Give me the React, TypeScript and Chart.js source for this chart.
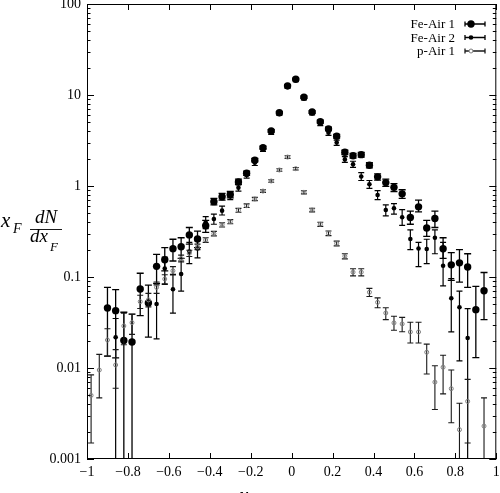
import React, { useEffect, useRef } from "react";
import { Chart, registerables } from "chart.js";

Chart.register(...registerables);

// ---------- data ----------
const xBins = [
  -0.98, -0.94, -0.9, -0.86, -0.82, -0.78, -0.74, -0.7, -0.66, -0.62,
  -0.58, -0.54, -0.5, -0.46, -0.42, -0.38, -0.34, -0.3, -0.26, -0.22,
  -0.18, -0.14, -0.1, -0.06, -0.02, 0.02, 0.06, 0.1, 0.14, 0.18,
  0.22, 0.26, 0.3, 0.34, 0.38, 0.42, 0.46, 0.5, 0.54, 0.58,
  0.62, 0.66, 0.7, 0.74, 0.78, 0.82, 0.86, 0.9, 0.94, 0.98,
];

const seriesNames = ["Fe-Air 1", "Fe-Air 2", "p-Air 1"];

const feAir1 = [
  null, null, 0.0456, 0.0427, 0.0201, 0.0193, 0.0738, 0.0518, 0.131, 0.155,
  0.205, 0.215, 0.29, 0.262, 0.366, 0.673, 0.762, 0.8, 1.11, 1.38,
  1.92, 2.64, 4.02, 6.38, 12.6, 14.9, 9.44, 6.5, 5.09, 4.23,
  3.52, 2.35, 2.15, 2.21, 1.69, 1.26, 1.09, 0.966, 0.82, 0.45,
  0.59, 0.345, 0.44, 0.204, 0.136, 0.143, 0.129, 0.0438, 0.0706, null,
];
const feAir1Lo = [
  null, null, 0.0135, 0.0129, 0.0003, 0.0003, 0.0376, 0.0218, 0.085, 0.117,
  0.15, 0.16, 0.23, 0.21, 0.31, 0.62, 0.7, 0.74, 1.04, 1.31,
  1.84, 2.55, 3.9, 6.2, 12.3, 14.6, 9.2, 6.3, 4.9, 4.05,
  3.35, 2.22, 2.02, 2.08, 1.58, 1.16, 0.99, 0.87, 0.73, 0.38,
  0.52, 0.28, 0.35, 0.16, 0.092, 0.088, 0.077, 0.013, 0.034, null,
];
const feAir1Hi = [
  null, null, 0.077, 0.0726, 0.041, 0.039, 0.11, 0.0813, 0.177, 0.21,
  0.26, 0.27, 0.35, 0.32, 0.42, 0.73, 0.83, 0.87, 1.19, 1.46,
  2.01, 2.74, 4.15, 6.55, 12.9, 15.2, 9.7, 6.7, 5.3, 4.42,
  3.7, 2.48, 2.28, 2.34, 1.8, 1.36, 1.19, 1.06, 0.91, 0.53,
  0.7, 0.42, 0.53, 0.27, 0.185, 0.2, 0.18, 0.079, 0.112, null,
];

const feAir2 = [
  null, null, null, 0.0218, null, null, null, null, 0.0505, 0.124,
  0.0733, 0.108, 0.19, 0.206, 0.4, 0.434, 0.536, 0.78, 0.957, 1.32,
  1.8, 2.55, 3.9, 6.2, 12.2, 14.5, 9.2, 6.3, 4.85, 3.85,
  3.0, 1.96, 1.73, 1.27, 1.045, 0.796, 0.545, 0.569, 0.453, 0.262,
  0.206, 0.203, 0.27, 0.133, 0.0585, 0.0465, 0.0214, null, null, null,
];
const feAir2Lo = [
  null, null, null, 0.0003, null, null, null, null, 0.0209, 0.083,
  0.04, 0.07, 0.14, 0.162, 0.34, 0.38, 0.48, 0.71, 0.88, 1.22,
  1.68, 2.4, 3.7, 5.95, 11.8, 14.0, 8.85, 6.05, 4.6, 3.6,
  2.8, 1.82, 1.6, 1.15, 0.94, 0.71, 0.47, 0.49, 0.37, 0.2,
  0.13, 0.14, 0.18, 0.08, 0.025, 0.012, 0.0003, null, null, null,
];
const feAir2Hi = [
  null, null, null, 0.035, null, null, null, null, 0.082, 0.165,
  0.107, 0.15, 0.24, 0.25, 0.46, 0.49, 0.6, 0.85, 1.03, 1.42,
  1.92, 2.7, 4.1, 6.45, 12.6, 15.0, 9.55, 6.55, 5.1, 4.1,
  3.2, 2.1, 1.87, 1.4, 1.15, 0.89, 0.62, 0.64, 0.55, 0.33,
  0.24, 0.26, 0.33, 0.24, 0.096, 0.07, 0.045, null, null, null,
];

const pAir1 = [
  0.005, 0.0095, 0.0203, 0.0108, 0.029, 0.0315, 0.0536, 0.056, 0.077, 0.095,
  0.117, 0.16, 0.182, 0.215, 0.255, 0.3, 0.375, 0.406, 0.541, 0.608,
  0.72, 0.88, 1.135, 1.5, 2.08, 1.55, 0.853, 0.545, 0.38, 0.302,
  0.234, 0.169, 0.113, 0.113, 0.068, 0.0527, 0.0402, 0.0313, 0.0305, 0.0249,
  0.0249, 0.0149, 0.007, 0.0102, 0.00593, 0.0021, 0.0043, null, 0.0023, null,
];
const pAir1Lo = [
  0.0015, 0.0047, 0.0135, 0.006, 0.018, 0.0234, 0.045, 0.047, 0.066, 0.084,
  0.105, 0.146, 0.168, 0.2, 0.24, 0.283, 0.355, 0.385, 0.515, 0.58,
  0.69, 0.85, 1.1, 1.45, 2.01, 1.5, 0.82, 0.52, 0.36, 0.285,
  0.22, 0.158, 0.103, 0.103, 0.061, 0.046, 0.034, 0.026, 0.025, 0.0188,
  0.0188, 0.0086, 0.0035, 0.0052, 0.0025, 0.0003, 0.0015, null, 0.0003, null,
];
const pAir1Hi = [
  0.0084, 0.0141, 0.027, 0.0159, 0.04, 0.039, 0.063, 0.066, 0.088, 0.106,
  0.13, 0.174, 0.197, 0.23, 0.27, 0.317, 0.395, 0.427, 0.567, 0.636,
  0.75, 0.91, 1.17, 1.55, 2.15, 1.6, 0.886, 0.57, 0.4, 0.32,
  0.248, 0.18, 0.123, 0.123, 0.075, 0.059, 0.046, 0.037, 0.036, 0.0318,
  0.0318, 0.0183, 0.0106, 0.0138, 0.0095, 0.0041, 0.0075, null, 0.0047, null,
];

const xTickValues = [-1, -0.8, -0.6, -0.4, -0.2, 0, 0.2, 0.4, 0.6, 0.8, 1];
const xTickLabels = ["\u22121", "\u22120.8", "\u22120.6", "\u22120.4", "\u22120.2", "0", "0.2", "0.4", "0.6", "0.8", "1"];
const yTickValues = [0.001, 0.01, 0.1, 1, 10, 100];
const yTickLabels = ["0.001", "0.01", "0.1", "1", "10", "100"];
const yMinorFactors = [2, 3, 4, 5, 6, 7, 8, 9];

// ---------- helpers ----------
type Pt = { x: number; y: number; lo: number; hi: number };
function points(vals: (number | null)[], lo: (number | null)[], hi: (number | null)[]): Pt[] {
  const out: Pt[] = [];
  vals.forEach((v, i) => {
    if (v === null) return;
    out.push({ x: xBins[i], y: v, lo: lo[i] as number, hi: hi[i] as number });
  });
  return out;
}

const SERIF = '"Liberation Serif", "Times New Roman", serif';

const styles = [
  { radius: 3.7, fill: "#000", stroke: "#000", bw: 0, cap: 3.5, barColor: "#000", barWidth: 1.3 },
  { radius: 2.3, fill: "#000", stroke: "#000", bw: 0, cap: 3, barColor: "#000", barWidth: 1.2 },
  { radius: 2.0, fill: "rgba(255,255,255,0)", stroke: "#7d7d7d", bw: 1, cap: 3, barColor: "#1a1a1a", barWidth: 1.1 },
];

const errorBarPlugin = {
  id: "errorBars",
  beforeDatasetDraw(chart: any, args: any) {
    const { ctx, chartArea } = chart;
    const xs = chart.scales.x;
    const ys = chart.scales.y;
    const ds = chart.data.datasets[args.index];
    const st = styles[args.index];
    ctx.save();
    ctx.strokeStyle = st.barColor;
    ctx.lineWidth = st.barWidth;
    (ds.data as Pt[]).forEach((p) => {
      const px = xs.getPixelForValue(p.x);
      const loIn = p.lo >= ys.min;
      const hiIn = p.hi <= ys.max;
      const yl = loIn ? ys.getPixelForValue(p.lo) : chartArea.bottom;
      const yh = hiIn ? ys.getPixelForValue(p.hi) : chartArea.top;
      ctx.beginPath();
      ctx.moveTo(px, yl);
      ctx.lineTo(px, yh);
      if (loIn) {
        ctx.moveTo(px - st.cap, yl);
        ctx.lineTo(px + st.cap, yl);
      }
      if (hiIn) {
        ctx.moveTo(px - st.cap, yh);
        ctx.lineTo(px + st.cap, yh);
      }
      ctx.stroke();
    });
    ctx.restore();
  },
};

const framePlugin = {
  id: "frame",
  afterDraw(chart: any) {
    const { ctx, chartArea } = chart;
    const { left, right, top, bottom } = chartArea;
    const xs = chart.scales.x;
    const ys = chart.scales.y;
    ctx.save();
    ctx.strokeStyle = "#000";
    ctx.lineWidth = 1;
    ctx.strokeRect(left + 0.5, top + 0.5, right - left - 1, bottom - top - 1);

    // x ticks (inward, bottom and top)
    ctx.beginPath();
    xTickValues.forEach((v) => {
      const px = Math.round(xs.getPixelForValue(v)) + 0.5;
      ctx.moveTo(px, bottom);
      ctx.lineTo(px, bottom - 6);
      ctx.moveTo(px, top);
      ctx.lineTo(px, top + 6);
    });
    // y ticks major and minor
    yTickValues.forEach((v, i) => {
      const py = Math.round(ys.getPixelForValue(v)) + 0.5;
      ctx.moveTo(left, py);
      ctx.lineTo(left + 7, py);
      ctx.moveTo(right, py);
      ctx.lineTo(right - 7, py);
      if (i < yTickValues.length - 1) {
        yMinorFactors.forEach((f) => {
          const my = Math.round(ys.getPixelForValue(v * f)) + 0.5;
          ctx.moveTo(left, my);
          ctx.lineTo(left + 3.5, my);
          ctx.moveTo(right, my);
          ctx.lineTo(right - 3.5, my);
        });
      }
    });
    ctx.stroke();

    // tick labels
    ctx.fillStyle = "#000";
    ctx.font = `14px ${SERIF}`;
    ctx.textAlign = "center";
    ctx.textBaseline = "middle";
    xTickValues.forEach((v, i) => {
      ctx.fillText(xTickLabels[i], xs.getPixelForValue(v), bottom + 13);
    });
    ctx.textAlign = "right";
    yTickValues.forEach((v, i) => {
      ctx.fillText(yTickLabels[i], left - 6, ys.getPixelForValue(v));
    });

    // y-axis title: x_F dN/dx_F
    ctx.textAlign = "left";
    ctx.textBaseline = "alphabetic";
    ctx.font = `italic 21px ${SERIF}`;
    ctx.fillText("x", 1, 227);
    ctx.font = `italic 14px ${SERIF}`;
    ctx.fillText("F", 13, 233);
    ctx.font = `italic 19px ${SERIF}`;
    ctx.textAlign = "center";
    ctx.fillText("dN", 46, 223);
    ctx.beginPath();
    ctx.lineWidth = 0.9;
    ctx.moveTo(30, 229.5);
    ctx.lineTo(62, 229.5);
    ctx.stroke();
    ctx.textAlign = "left";
    ctx.fillText("dx", 30, 242);
    ctx.font = `italic 13px ${SERIF}`;
    ctx.fillText("F", 50, 251);

    // x-axis title (mostly outside the picture)
    ctx.font = `italic 21px ${SERIF}`;
    ctx.fillText("x", 239, 502);
    ctx.font = `italic 14px ${SERIF}`;
    ctx.fillText("F", 250, 507);

    // legend
    const rowsY = [24, 37.5, 51];
    ctx.font = `13px ${SERIF}`;
    ctx.textAlign = "right";
    ctx.textBaseline = "middle";
    seriesNames.forEach((name, i) => {
      const y = rowsY[i];
      const st = styles[i];
      ctx.fillStyle = "#000";
      ctx.fillText(name, 455, y + 1);
      ctx.strokeStyle = st.barColor;
      ctx.lineWidth = 1.3;
      ctx.beginPath();
      ctx.moveTo(465, y);
      ctx.lineTo(485, y);
      ctx.moveTo(465, y - 2.5);
      ctx.lineTo(465, y + 2.5);
      ctx.moveTo(485, y - 2.5);
      ctx.lineTo(485, y + 2.5);
      ctx.stroke();
      ctx.beginPath();
      ctx.arc(471, y, st.radius, 0, Math.PI * 2);
      if (i < 2) {
        ctx.fillStyle = st.fill;
        ctx.fill();
      } else {
        ctx.fillStyle = "#fff";
        ctx.fill();
        ctx.strokeStyle = st.stroke;
        ctx.lineWidth = 1;
        ctx.stroke();
      }
    });
    ctx.restore();
  },
};

export default function App() {
  const ref = useRef<HTMLCanvasElement | null>(null);

  useEffect(() => {
    if (!ref.current) return;
    const series = [
      points(feAir1, feAir1Lo, feAir1Hi),
      points(feAir2, feAir2Lo, feAir2Hi),
      points(pAir1, pAir1Lo, pAir1Hi),
    ];
    const chart = new Chart(ref.current, {
      type: "scatter",
      data: {
        datasets: series.map((data, i) => ({
          label: seriesNames[i],
          data,
          pointRadius: styles[i].radius,
          pointBackgroundColor: styles[i].fill,
          pointBorderColor: styles[i].stroke,
          pointBorderWidth: styles[i].bw,
          pointHoverRadius: styles[i].radius,
          showLine: false,
          order: 2 - i,
        })),
      },
      options: {
        animation: false,
        responsive: false,
        devicePixelRatio: 1,
        events: [],
        layout: { padding: { left: 0, right: 3, top: 4, bottom: 0 } },
        plugins: { legend: { display: false }, tooltip: { enabled: false } },
        scales: {
          x: {
            type: "linear",
            min: -1,
            max: 1,
            grid: { display: false },
            border: { display: false },
            ticks: { display: false },
            afterFit(s: any) {
              s.height = 34;
            },
          },
          y: {
            type: "logarithmic",
            min: 0.001,
            max: 100,
            grid: { display: false },
            border: { display: false },
            ticks: { display: false },
            afterFit(s: any) {
              s.width = 87;
            },
          },
        },
      } as any,
      plugins: [errorBarPlugin, framePlugin],
    });
    return () => chart.destroy();
  }, []);

  return (
    <div style={{ position: "absolute", left: 0, top: 0, width: 500, height: 493, background: "#fff" }}>
      <canvas ref={ref} width={500} height={493} style={{ display: "block" }} />
    </div>
  );
}
